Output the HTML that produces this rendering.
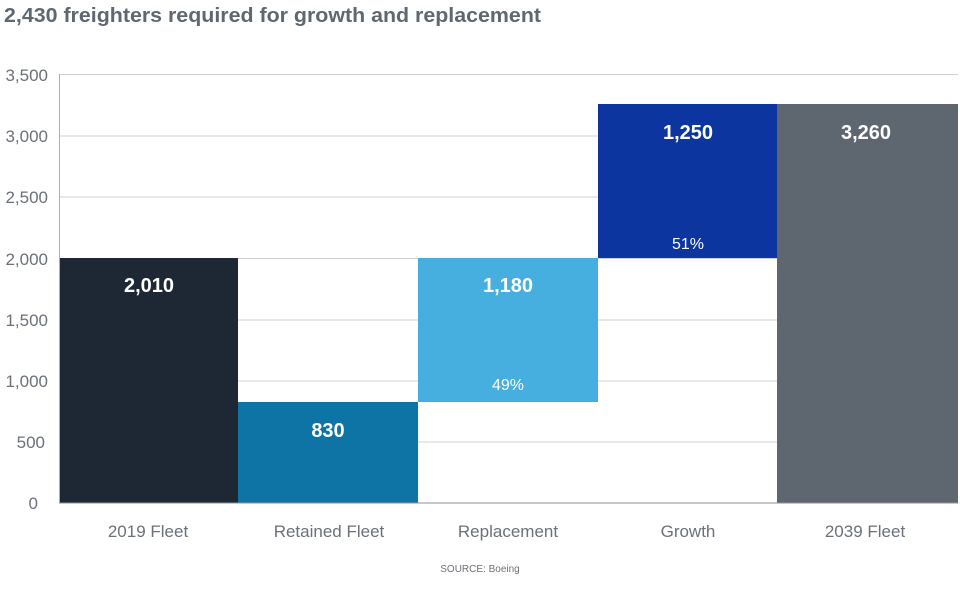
<!DOCTYPE html>
<html><head><style>body{margin:0;background:#fff}svg{display:block}</style></head><body>
<svg width="960" height="599" xmlns="http://www.w3.org/2000/svg" font-family="Liberation Sans, sans-serif">
<text x="4" y="22" font-size="20" font-weight="bold" fill="#5f6770" textLength="537" lengthAdjust="spacingAndGlyphs">2,430 freighters required for growth and replacement</text>
<g stroke="#cfd2d5" stroke-width="1">
<line x1="59" x2="958" y1="74.5" y2="74.5"/><line x1="59" x2="958" y1="136" y2="136"/><line x1="59" x2="958" y1="197" y2="197"/><line x1="59" x2="958" y1="258.5" y2="258.5"/><line x1="59" x2="958" y1="320" y2="320"/><line x1="59" x2="958" y1="381" y2="381"/><line x1="59" x2="958" y1="442" y2="442"/>
</g>
<g font-size="17" fill="#6b7178" text-anchor="end">
<text x="48" y="81">3,500</text><text x="48" y="142">3,000</text><text x="48" y="203">2,500</text><text x="48" y="265">2,000</text><text x="48" y="326">1,500</text><text x="48" y="387">1,000</text><text x="45" y="448">500</text><text x="38" y="509">0</text>
</g>
<rect x="59" y="258" width="179" height="245" fill="#1e2834"/>
<rect x="238" y="402" width="180" height="101" fill="#0e74a6"/>
<rect x="418" y="258" width="180" height="144" fill="#47aee0"/>
<rect x="598" y="104" width="179" height="154" fill="#0c35a0"/>
<rect x="777" y="104" width="181" height="399" fill="#5e6670"/>
<line x1="59.5" x2="59.5" y1="74" y2="503" stroke="#a9aeb3"/>
<line x1="59" x2="958" y1="503" y2="503" stroke="#8c9298"/>
<g font-size="20" font-weight="bold" fill="#fff" text-anchor="middle">
<text x="149" y="292">2,010</text><text x="328" y="437">830</text><text x="508" y="292">1,180</text><text x="688" y="139">1,250</text><text x="866" y="139">3,260</text>
</g>
<g font-size="16" fill="#fff" text-anchor="middle">
<text x="508" y="390">49%</text><text x="688" y="249">51%</text>
</g>
<g font-size="17" fill="#6b7178" text-anchor="middle">
<text x="148" y="537">2019 Fleet</text><text x="329" y="537">Retained Fleet</text><text x="508" y="537">Replacement</text><text x="688" y="537">Growth</text><text x="865" y="537">2039 Fleet</text>
</g>
<text x="480" y="572" font-size="10" fill="#6b7178" text-anchor="middle">SOURCE: Boeing</text>
</svg>
</body></html>
